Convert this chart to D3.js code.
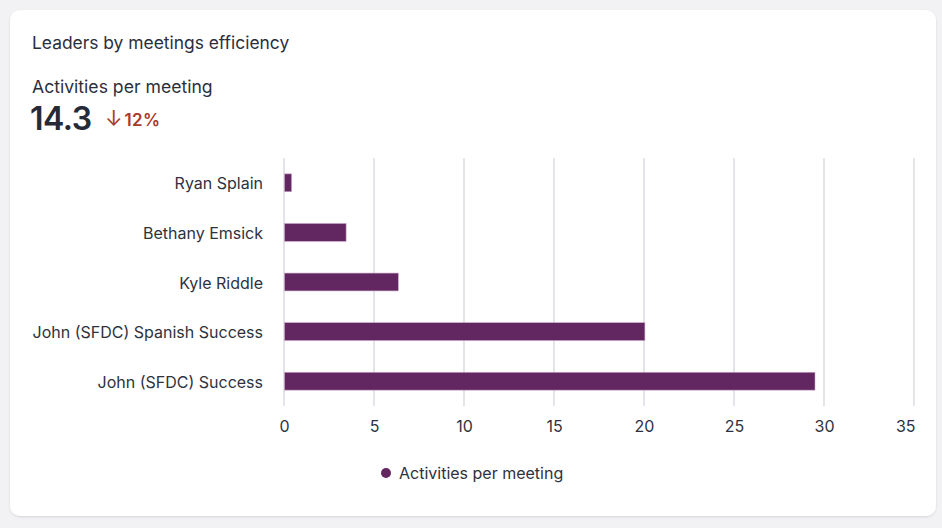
<!DOCTYPE html>
<html>
<head>
<meta charset="utf-8">
<script src="https://cdn.jsdelivr.net/npm/d3@7"></script>
<style>
  html, body { margin: 0; padding: 0; background: #f2f2f5; }
  svg { display: block; font-family: Inter, "Noto Sans", sans-serif; }
</style>
</head>
<body>
<div id="chart"></div>
<script>
// dados do gráfico
const leaders = ["Ryan Splain", "Bethany Emsick", "Kyle Riddle", "John (SFDC) Spanish Success", "John (SFDC) Success"];
const activitiesPerMeeting = [0.42, 3.45, 6.35, 20.05, 29.5];
const xTicks = [0, 5, 10, 15, 20, 25, 30, 35];
const seriesName = "Activities per meeting";
const kpiValue = "14.3";
const kpiChange = "12%";

const width = 942, height = 528;
const margin = { top: 158, right: 28, bottom: 122, left: 284 };
const barColor = "#622760";
const textColor = "#2e3240";

const svg = d3.select("#chart").append("svg")
  .attr("width", width)
  .attr("height", height);

// sombra do cartão
const defs = svg.append("defs");
const f = defs.append("filter").attr("id", "shadow").attr("x", "-5%").attr("y", "-5%").attr("width", "110%").attr("height", "110%");
f.append("feDropShadow").attr("dx", 0).attr("dy", 1).attr("stdDeviation", 1.2).attr("flood-color", "#000").attr("flood-opacity", 0.12);

svg.append("rect")
  .attr("x", 10).attr("y", 10)
  .attr("width", 926).attr("height", 506)
  .attr("rx", 10)
  .attr("fill", "#fff")
  .attr("filter", "url(#shadow)");

// títulos
svg.append("text")
  .attr("x", 32).attr("y", 49)
  .attr("fill", "#2b2f3d")
  .style("font-size", "17.4px")
  .text("Leaders by meetings efficiency");

svg.append("text")
  .attr("x", 32).attr("y", 93)
  .attr("fill", "#2b2f3d")
  .style("font-size", "17.6px")
  .text(seriesName);

svg.append("text")
  .attr("x", 30).attr("y", 130)
  .attr("fill", "#262a36")
  .style("font-size", "32px")
  .style("font-weight", "600")
  .style("letter-spacing", "-0.5px")
  .text(kpiValue);

const delta = svg.append("text")
  .attr("x", 105).attr("y", 126)
  .attr("fill", "#a8392a")
  .style("font-weight", "600");
delta.append("tspan").style("font-size", "21px").style("font-weight", "400").text("↓");
delta.append("tspan").attr("dx", 2).style("font-size", "17px").style("letter-spacing", "0.4px").text(kpiChange);

// escalas
const x = d3.scaleLinear()
  .domain([0, 35])
  .range([margin.left, width - margin.right]);

const y = d3.scaleBand()
  .domain(leaders)
  .range([margin.top, height - margin.bottom])
  .paddingInner(0.64)
  .paddingOuter(0.32);

// grade vertical
svg.append("g")
  .selectAll("line")
  .data(xTicks)
  .join("line")
  .attr("x1", d => x(d)).attr("x2", d => x(d))
  .attr("y1", margin.top).attr("y2", height - margin.bottom)
  .attr("stroke", "#dedde4")
  .attr("stroke-width", 1.6);

// eixo X
const xAxis = svg.append("g")
  .attr("transform", `translate(0,${height - margin.bottom})`)
  .call(d3.axisBottom(x).tickValues(xTicks).tickSize(0).tickPadding(15));
xAxis.select(".domain").remove();
xAxis.selectAll("text")
  .attr("fill", textColor)
  .style("font-size", "16px")
  .style("font-family", "Inter, 'Noto Sans', sans-serif");
// último rótulo fica alinhado ao fim
xAxis.selectAll(".tick").filter(d => d === 35).select("text")
  .attr("text-anchor", "end").attr("x", 1);

// eixo Y
const yAxis = svg.append("g")
  .attr("transform", `translate(${margin.left},0)`)
  .call(d3.axisLeft(y).tickSize(0).tickPadding(21));
yAxis.select(".domain").remove();
yAxis.selectAll("text")
  .attr("y", 1.5)
  .attr("fill", textColor)
  .style("font-size", "16px")
  .style("font-family", "Inter, 'Noto Sans', sans-serif");

// barras
svg.append("g")
  .selectAll("rect")
  .data(leaders)
  .join("rect")
  .attr("x", x(0) + 0.5)
  .attr("y", d => y(d))
  .attr("width", (d, i) => x(activitiesPerMeeting[i]) - x(0) - 0.5)
  .attr("height", y.bandwidth())
  .attr("fill", barColor)
  .attr("stroke", "#c9a6c8")
  .attr("stroke-width", 0.6);

// legenda
const legend = svg.append("g").attr("transform", "translate(386,473)");
legend.append("circle").attr("r", 5).attr("fill", barColor);
legend.append("text")
  .attr("x", 13).attr("y", 5.5)
  .attr("fill", textColor)
  .style("font-size", "16px")
  .text(seriesName);
</script>
</body>
</html>
